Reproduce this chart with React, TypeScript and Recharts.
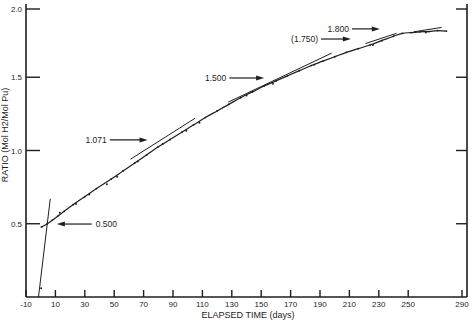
import React from 'react'
import {
  ComposedChart,
  Line,
  Scatter,
  XAxis,
  YAxis,
  ReferenceLine,
} from 'recharts'

// elapsed time (days) vs H2/Pu ratio
const curveDays = [
  0.5, 4.5, 8, 12, 16, 22, 30, 38, 48, 56, 64, 72, 80, 88, 96, 104, 112, 120,
  128, 136, 144, 152, 160, 168, 176, 184, 192, 200, 208, 216, 224, 232, 240,
  246, 252, 258, 264, 270, 276,
]
const curveRatio = [
  0.478, 0.5, 0.525, 0.555, 0.585, 0.63, 0.685, 0.74, 0.805, 0.86, 0.915, 0.97,
  1.025, 1.075, 1.125, 1.175, 1.225, 1.27, 1.315, 1.36, 1.4, 1.44, 1.475, 1.51,
  1.545, 1.58, 1.61, 1.64, 1.67, 1.695, 1.72, 1.75, 1.78, 1.8, 1.805, 1.81,
  1.812, 1.818, 1.815,
]

// stray points scattered around the curve
const scatterDays = [0.3, 13, 24, 33, 45, 52, 66, 83, 99, 108, 140, 158, 186, 226, 262]
const scatterRatio = [0.06, 0.575, 0.635, 0.7, 0.77, 0.82, 0.925, 1.045, 1.135, 1.19, 1.375, 1.455, 1.585, 1.72, 1.805]

// fitted tangent segments: [day, ratio] start and end
const tangentStart = [
  [-1.5, 0],
  [61, 0.94],
  [127.6, 1.33],
  [221, 1.73],
  [253.7, 1.81],
]
const tangentEnd = [
  [6.5, 0.67],
  [105, 1.22],
  [198, 1.665],
  [242, 1.8],
  [272.7, 1.84],
]

// arrow annotations
const annLabels = ['0.500', '1.071', '1.500', '(1.750)', '1.800']
const annTail = [34.7, 47, 128.3, 190.7, 211.7]
const annHead = [11, 72.7, 152, 211, 230.7]
const annRatio = [0.498, 1.072, 1.495, 1.761, 1.83]

const xTicks = [-10, 10, 30, 50, 70, 90, 110, 130, 150, 170, 190, 210, 230, 250, 270, 290]
const yTicks = [0.5, 1, 1.5, 2]

const ink = '#1e1e1e'
const font = '"Liberation Sans", Arial, sans-serif'

const curveData = curveDays.map((x, i) => ({ x, y: curveRatio[i] }))
const scatterData = scatterDays.map((x, i) => ({ x, y: scatterRatio[i] }))
const tangents = tangentStart.map((s, i) => [
  { x: s[0], y: s[1] },
  { x: tangentEnd[i][0], y: tangentEnd[i][1] },
])

const BottomTick = (p: any) => (
  <g>
    <line x1={p.x} x2={p.x} y1={p.y} y2={p.y - 7} stroke={ink} strokeWidth={1.4} />
    <text x={p.x} y={p.y + 10} textAnchor="middle" fontSize={8} fontFamily={font} fill={ink}>
      {p.payload.value}
    </text>
  </g>
)

const TopTick = (p: any) => (
  <line x1={p.x} x2={p.x} y1={p.y} y2={p.y + 7} stroke={ink} strokeWidth={1.4} />
)

const LeftTick = (p: any) => (
  <g>
    <line x1={p.x} x2={p.x + 14} y1={p.y} y2={p.y} stroke={ink} strokeWidth={1.4} />
    <text x={p.x - 4} y={p.y + 3} textAnchor="end" fontSize={8} fontFamily={font} fill={ink}>
      {Number(p.payload.value).toFixed(1)}
    </text>
  </g>
)

const RightTick = (p: any) => (
  <line x1={p.x} x2={p.x - 11} y1={p.y} y2={p.y} stroke={ink} strokeWidth={1.4} />
)

const arrowShape = (label: string) => (p: any) => {
  const { x1, y1, x2, y2 } = p
  const dir = x2 > x1 ? 1 : -1
  return (
    <g>
      <line x1={x1} y1={y1} x2={x2 - dir * 5} y2={y2} stroke={ink} strokeWidth={1.2} />
      <polygon
        points={`${x2},${y2} ${x2 - dir * 8},${y2 - 2.5} ${x2 - dir * 8},${y2 + 2.5}`}
        fill={ink}
      />
      <text
        x={dir > 0 ? x1 - 3 : x1 + 4}
        y={y1 + 3}
        textAnchor={dir > 0 ? 'end' : 'start'}
        fontSize={8.5}
        fontFamily={font}
        fill={ink}
      >
        {label}
      </text>
    </g>
  )
}

export default function App() {
  return (
    <div style={{ width: 474, height: 320, background: '#fff' }}>
      <style>{'body{margin:0}'}</style>
      <ComposedChart
        width={474}
        height={320}
        margin={{ top: 4, right: 0, bottom: 0, left: 0 }}
      >
        <XAxis
          xAxisId="b"
          dataKey="x"
          type="number"
          domain={[-10, 290]}
          ticks={xTicks}
          height={23}
          tickSize={0}
          tickMargin={0}
          tickLine={false}
          axisLine={{ stroke: ink, strokeWidth: 1.6 }}
          tick={BottomTick}
          allowDataOverflow
          label={{
            content: () => (
              <text x={248} y={318} textAnchor="middle" fontSize={9} fontFamily={font} fill={ink}>
                ELAPSED TIME (days)
              </text>
            ),
          }}
        />
        <XAxis
          xAxisId="t"
          orientation="top"
          dataKey="x"
          type="number"
          domain={[-10, 290]}
          ticks={xTicks}
          height={0}
          tickSize={0}
          tickMargin={0}
          tickLine={false}
          axisLine={{ stroke: ink, strokeWidth: 1.6 }}
          tick={TopTick}
          allowDataOverflow
        />
        <YAxis
          yAxisId="l"
          type="number"
          domain={[0, 2]}
          ticks={yTicks}
          width={26}
          tickSize={0}
          tickMargin={0}
          tickLine={false}
          axisLine={{ stroke: ink, strokeWidth: 1.6 }}
          tick={LeftTick}
          allowDataOverflow
          label={{
            content: () => (
              <text
                x={8}
                y={135}
                transform="rotate(-90 8 135)"
                textAnchor="middle"
                fontSize={9}
                fontFamily={font}
                fill={ink}
              >
                RATIO (Mol H2/Mol Pu)
              </text>
            ),
          }}
        />
        <YAxis
          yAxisId="r"
          orientation="right"
          type="number"
          domain={[0, 2]}
          ticks={yTicks}
          width={7}
          tickSize={0}
          tickMargin={0}
          tickLine={false}
          axisLine={{ stroke: ink, strokeWidth: 1.6 }}
          tick={RightTick}
          allowDataOverflow
        />

        {tangents.map((seg, i) => (
          <Line
            key={'t' + i}
            xAxisId="b"
            yAxisId="l"
            data={seg}
            dataKey="y"
            stroke={ink}
            strokeWidth={1}
            dot={false}
            isAnimationActive={false}
          />
        ))}
        <Line
          xAxisId="b"
          yAxisId="l"
          data={curveData}
          dataKey="y"
          type="monotone"
          stroke={ink}
          strokeWidth={1.2}
          dot={{ r: 0.9, fill: ink, stroke: 'none' }}
          isAnimationActive={false}
        />
        <Scatter
          xAxisId="b"
          yAxisId="l"
          data={scatterData}
          dataKey="y"
          fill={ink}
          shape={(p: any) => <circle cx={p.cx} cy={p.cy} r={1} fill={ink} />}
          isAnimationActive={false}
        />

        {annLabels.map((label, i) => (
          <ReferenceLine
            key={label}
            xAxisId="b"
            yAxisId="l"
            segment={[
              { x: annTail[i], y: annRatio[i] },
              { x: annHead[i], y: annRatio[i] },
            ]}
            ifOverflow="visible"
            shape={arrowShape(label)}
          />
        ))}
      </ComposedChart>
    </div>
  )
}
